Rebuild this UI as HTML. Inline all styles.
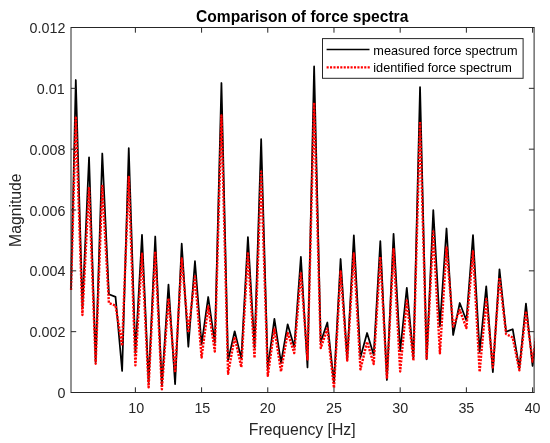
<!DOCTYPE html>
<html><head><meta charset="utf-8"><title>Comparison of force spectra</title>
<style>
html,body{margin:0;padding:0;background:#fff;}
body{width:550px;height:443px;overflow:hidden;}
svg{display:block;}
text{font-family:"Liberation Sans",Arial,Helvetica,sans-serif;fill:#262626;}
</style></head><body>
<svg width="550" height="443" viewBox="0 0 550 443">
<rect x="0" y="0" width="550" height="443" fill="#fff"/>
<defs><clipPath id="c"><rect x="69.5" y="26.5" width="465.40000000000003" height="367.0"/></clipPath></defs>
<g clip-path="url(#c)" fill="none" stroke-linejoin="round">
<polyline points="71.00,290.00 75.80,80.00 82.42,307.00 89.04,157.40 95.66,362.00 102.28,153.50 108.90,294.20 115.52,296.90 122.14,371.00 128.76,148.20 135.38,353.00 142.00,234.90 148.62,382.00 155.24,236.50 161.86,385.00 168.48,284.60 175.10,384.10 181.72,243.70 188.34,346.80 194.96,261.20 201.58,344.50 208.20,297.00 214.82,343.00 221.44,83.00 228.06,360.60 234.68,331.30 241.30,358.50 247.92,237.10 254.54,347.50 261.16,139.20 267.78,368.30 274.40,318.80 281.02,363.00 287.64,324.30 294.26,347.00 300.88,256.80 307.50,367.50 314.12,66.40 320.74,342.00 327.36,322.50 333.98,382.50 340.60,259.00 347.22,359.50 353.84,235.40 360.46,357.30 367.08,333.00 373.70,355.10 380.32,241.10 386.94,380.00 393.56,233.80 400.18,351.20 406.80,287.90 413.42,357.60 420.04,87.10 426.66,359.30 433.28,210.10 439.90,326.50 446.52,228.50 453.14,335.00 459.76,303.00 466.38,320.50 473.00,235.10 479.62,352.00 486.24,286.30 492.86,372.10 499.48,269.40 506.10,331.80 512.72,329.20 519.34,368.50 525.96,303.60 532.58,366.00 539.20,313.00" stroke="#000" stroke-width="1.75"/>
<polyline points="71.00,290.00 75.80,117.60 82.42,315.00 89.04,187.00 95.66,363.80 102.28,185.90 108.90,303.00 115.52,305.50 122.14,345.80 128.76,177.00 135.38,365.40 142.00,253.60 148.62,387.40 155.24,251.60 161.86,389.30 168.48,298.30 175.10,372.50 181.72,258.50 188.34,332.50 194.96,276.50 201.58,357.50 208.20,306.50 214.82,351.50 221.44,115.40 228.06,373.70 234.68,337.00 241.30,367.20 247.92,252.00 254.54,358.00 261.16,171.60 267.78,375.90 274.40,328.70 281.02,371.50 287.64,333.00 294.26,353.00 300.88,272.20 307.50,359.50 314.12,102.60 320.74,348.00 327.36,328.70 333.98,388.00 340.60,271.50 347.22,360.60 353.84,253.50 360.46,369.40 367.08,341.80 373.70,364.00 380.32,256.80 386.94,378.80 393.56,249.30 400.18,371.50 406.80,300.50 413.42,360.70 420.04,121.50 426.66,358.40 433.28,231.40 439.90,353.40 446.52,247.50 453.14,326.50 459.76,310.00 466.38,328.00 473.00,251.50 479.62,372.00 486.24,299.00 492.86,367.50 499.48,277.50 506.10,334.00 512.72,337.50 519.34,370.30 525.96,311.20 532.58,361.50 539.20,316.00" stroke="#ff0000" stroke-width="2.4" stroke-dasharray="2.1 1.32"/>
</g>
<g stroke="#262626" stroke-width="1" fill="none">
<line x1="71.0" y1="27.0" x2="71.0" y2="393.0"/>
<line x1="534.1" y1="27.0" x2="534.1" y2="393.0"/>
<line x1="71.0" y1="27.5" x2="534.1" y2="27.5"/>
<line x1="71.0" y1="392.5" x2="534.1" y2="392.5"/>
<line x1="135.38" y1="392.5" x2="135.38" y2="387.30"/><line x1="135.38" y1="27.5" x2="135.38" y2="32.70"/><line x1="201.58" y1="392.5" x2="201.58" y2="387.30"/><line x1="201.58" y1="27.5" x2="201.58" y2="32.70"/><line x1="267.78" y1="392.5" x2="267.78" y2="387.30"/><line x1="267.78" y1="27.5" x2="267.78" y2="32.70"/><line x1="333.98" y1="392.5" x2="333.98" y2="387.30"/><line x1="333.98" y1="27.5" x2="333.98" y2="32.70"/><line x1="400.18" y1="392.5" x2="400.18" y2="387.30"/><line x1="400.18" y1="27.5" x2="400.18" y2="32.70"/><line x1="466.38" y1="392.5" x2="466.38" y2="387.30"/><line x1="466.38" y1="27.5" x2="466.38" y2="32.70"/><line x1="532.58" y1="392.5" x2="532.58" y2="387.30"/><line x1="532.58" y1="27.5" x2="532.58" y2="32.70"/><line x1="71.0" y1="392.50" x2="76.20" y2="392.50"/><line x1="534.1" y1="392.50" x2="528.90" y2="392.50"/><line x1="71.0" y1="331.67" x2="76.20" y2="331.67"/><line x1="534.1" y1="331.67" x2="528.90" y2="331.67"/><line x1="71.0" y1="270.83" x2="76.20" y2="270.83"/><line x1="534.1" y1="270.83" x2="528.90" y2="270.83"/><line x1="71.0" y1="210.00" x2="76.20" y2="210.00"/><line x1="534.1" y1="210.00" x2="528.90" y2="210.00"/><line x1="71.0" y1="149.17" x2="76.20" y2="149.17"/><line x1="534.1" y1="149.17" x2="528.90" y2="149.17"/><line x1="71.0" y1="88.33" x2="76.20" y2="88.33"/><line x1="534.1" y1="88.33" x2="528.90" y2="88.33"/><line x1="71.0" y1="27.50" x2="76.20" y2="27.50"/><line x1="534.1" y1="27.50" x2="528.90" y2="27.50"/>
</g>
<g font-size="14.3px"><text x="136.18" y="412.9" text-anchor="middle">10</text><text x="202.38" y="412.9" text-anchor="middle">15</text><text x="267.78" y="412.9" text-anchor="middle">20</text><text x="333.98" y="412.9" text-anchor="middle">25</text><text x="400.18" y="412.9" text-anchor="middle">30</text><text x="466.38" y="412.9" text-anchor="middle">35</text><text x="532.58" y="412.9" text-anchor="middle">40</text><text x="65.4" y="398.10" text-anchor="end">0</text><text x="65.4" y="337.27" text-anchor="end">0.002</text><text x="65.4" y="276.43" text-anchor="end">0.004</text><text x="65.4" y="215.60" text-anchor="end">0.006</text><text x="65.4" y="154.77" text-anchor="end">0.008</text><text x="64.6" y="93.93" text-anchor="end">0.01</text><text x="65.4" y="33.10" text-anchor="end">0.012</text></g>
<text x="302.2" y="21.6" text-anchor="middle" font-size="15.6px" font-weight="bold" style="fill:#000">Comparison of force spectra</text>
<text x="302.2" y="434.5" text-anchor="middle" font-size="15.75px">Frequency [Hz]</text>
<text transform="translate(21.3,210.2) rotate(-90)" text-anchor="middle" font-size="15.75px">Magnitude</text>
<g>
<rect x="322.5" y="38.6" width="200.6" height="39.7" fill="#fff" stroke="#262626" stroke-width="1"/>
<line x1="326.6" y1="49.5" x2="369.5" y2="49.5" stroke="#000" stroke-width="1.6"/>
<line x1="326.6" y1="67.4" x2="370" y2="67.4" stroke="#ff0000" stroke-width="2.4" stroke-dasharray="2.1 1.32"/>
<text x="373.3" y="54.8" font-size="12.72px" style="fill:#000">measured force spectrum</text>
<text x="373.3" y="72.2" font-size="12.72px" style="fill:#000">identified force spectrum</text>
</g>
</svg>
</body></html>
